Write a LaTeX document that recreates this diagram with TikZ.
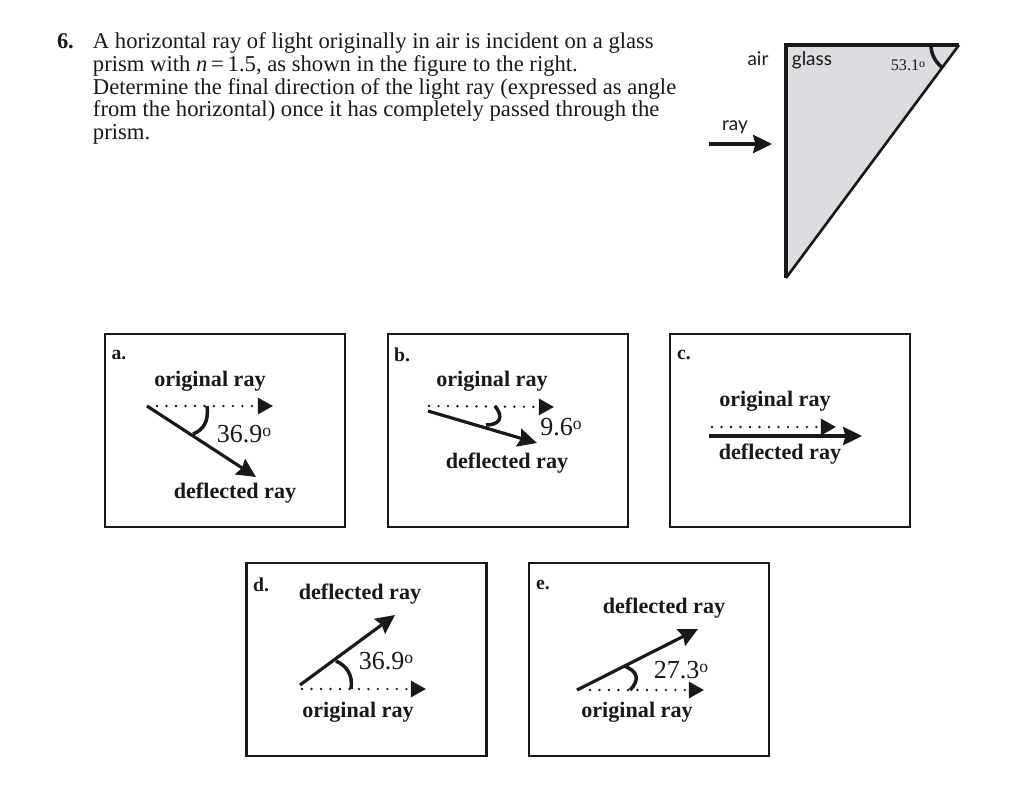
\documentclass[tikz,border=0pt]{standalone}
\usepackage{fontspec}
\setmainfont{Liberation Serif}
\newfontfamily\raysans{Lato}
\usetikzlibrary{arrows.meta, positioning}
\definecolor{prismgray}{RGB}{220,221,224}
\definecolor{inkblack}{RGB}{25,25,25}
\newcommand{\dego}{\raisebox{0.5ex}{\fontsize{5}{5}\selectfont o}}

\begin{document}
\begin{tikzpicture}[every node/.style={inner sep=0pt, outer sep=0pt, text=inkblack},
  optbox/.style={draw=inkblack, line width=0.6pt, fill=white, minimum width=2.40cm, minimum height=1.93cm},
  optlabel/.style={font=\fontsize{5.6}{6.5}\selectfont\bfseries},
  raylabel/.style={font=\fontsize{6.3}{7}\selectfont\bfseries},
  anglabel/.style={font=\fontsize{7.4}{8}\selectfont},
  sanslabel/.style={font=\fontsize{5.4}{6}\selectfont\raysans},
  origray/.style={draw=inkblack, line width=0.75pt, line cap=round, dash pattern=on 0pt off 2.7pt,
                  -{Triangle[length=4.3pt, width=4.6pt]}},
  defray/.style={draw=inkblack, line width=0.9pt, -{Stealth[length=5.4pt, width=5.2pt, inset=0.7pt]}},
  angarc/.style={draw=inkblack, line width=1pt}]
  \useasboundingbox (0,0) rectangle (10.24,8.04);

  % Question text
  \node[anchor=north west, font=\fontsize{6.4}{6.5}\selectfont\bfseries] (qnum) at (0.57,7.70) {6.};
  \node[anchor=north west, align=left, font=\fontsize{6.44}{6.5}\selectfont] (qtext) at (0.93,7.715)
    {A horizontal ray of light originally in air is incident on a glass\\
     prism with \textit{n}\,=\,1.5, as shown in the figure to the right.\\
     Determine the final direction of the light ray (expressed as angle\\
     from the horizontal) once it has completely passed through the\\
     prism.};

  % Prism
  \coordinate (pa) at (7.86,7.59);
  \coordinate (pb) at (9.59,7.59);
  \coordinate (pc) at (7.86,5.26);
  \fill[prismgray] (pa) -- (pb) -- (pc) -- cycle;
  \draw[inkblack, line width=0.9pt, line join=miter] (pc) -- (pa) -- (pb);
  \draw[inkblack, line width=0.75pt] (pb) -- (pc);
  \draw[angarc] (pb) ++(-0.28,0) arc (180:233.1:0.28);
  \node[sanslabel] (air) at (7.58,7.45) {air};
  \node[sanslabel] (glass) at (8.12,7.44) {glass};
  \node[font=\fontsize{4.6}{5}\selectfont] (prang) at (9.08,7.39) {53.1\raisebox{0.4ex}{\fontsize{3.4}{3}\selectfont o}};
  \node[sanslabel] (raytxt) at (7.35,6.77) {ray};
  \coordinate (rayin) at (7.09,6.60);
  \coordinate (rayout) at (7.72,6.60);
  \draw[defray] (rayin) -- (rayout);

  % Option a
  \node[optbox] (boxa) at (2.25,3.735) {};
  \node[optlabel] (laba) at (1.19,4.49) {a.};
  \node[raylabel] (oria) at (2.10,4.23) {original ray};
  \node[raylabel] (defa) at (2.35,3.11) {deflected ray};
  \node[anglabel] (anga) at (2.44,3.70) {36.9\dego};
  \coordinate (a1) at (1.57,3.98);
  \coordinate (a2) at (2.73,3.98);
  \coordinate (a3) at (1.47,3.98);
  \coordinate (a4) at (2.56,3.27);
  \draw[origray] (a1) -- (a2);
  \draw[defray] (a3) -- (a4);
  \draw[angarc] (2.07,3.98) .. controls (2.09,3.82) and (2.03,3.74) .. (1.93,3.70);

  % Option b
  \node[optbox] (boxb) at (5.08,3.735) {};
  \node[optlabel] (labb) at (4.02,4.49) {b.};
  \node[raylabel] (orib) at (4.92,4.23) {original ray};
  \node[raylabel] (defb) at (5.07,3.41) {deflected ray};
  \node[anglabel] (angb) at (5.61,3.77) {9.6\dego};
  \coordinate (b1) at (4.29,3.98);
  \coordinate (b2) at (5.54,3.97);
  \coordinate (b3) at (4.28,3.93);
  \coordinate (b4) at (5.37,3.61);
  \draw[origray] (b1) -- (b2);
  \draw[defray] (b3) -- (b4);
  \draw[angarc] (4.95,3.98) .. controls (5.04,3.87) and (5.00,3.79) .. (4.86,3.79);

  % Option c
  \node[optbox] (boxc) at (7.90,3.735) {};
  \node[optlabel] (labc) at (6.84,4.49) {c.};
  \node[raylabel] (oric) at (7.75,4.03) {original ray};
  \node[raylabel] (defc) at (7.80,3.50) {deflected ray};
  \coordinate (c1) at (7.12,3.77);
  \coordinate (c2) at (8.36,3.77);
  \coordinate (c3) at (7.09,3.68);
  \coordinate (c4) at (8.62,3.68);
  \draw[origray] (c1) -- (c2);
  \draw[defray] (c3) -- (c4);

  % Option d
  \node[optbox] (boxd) at (3.665,1.445) {};
  \node[optlabel] (labd) at (2.61,2.19) {d.};
  \node[raylabel] (defd) at (3.60,2.10) {deflected ray};
  \node[raylabel] (orid) at (3.58,0.92) {original ray};
  \node[anglabel] (angd) at (3.86,1.43) {36.9\dego};
  \coordinate (d1) at (3.02,1.15);
  \coordinate (d2) at (4.26,1.15);
  \coordinate (d3) at (3.00,1.19);
  \coordinate (d4) at (3.95,1.89);
  \draw[origray] (d1) -- (d2);
  \draw[defray] (d3) -- (d4);
  \draw[angarc] (3.51,1.15) .. controls (3.53,1.29) and (3.47,1.38) .. (3.36,1.43);

  % Option e
  \node[optbox] (boxe) at (6.49,1.445) {};
  \node[optlabel] (labe) at (5.43,2.19) {e.};
  \node[raylabel] (defe) at (6.64,1.96) {deflected ray};
  \node[raylabel] (orie) at (6.37,0.92) {original ray};
  \node[anglabel] (ange) at (6.81,1.34) {27.3\dego};
  \coordinate (e1) at (5.90,1.14);
  \coordinate (e2) at (7.04,1.14);
  \coordinate (e3) at (5.77,1.14);
  \coordinate (e4) at (6.98,1.75);
  \draw[origray] (e1) -- (e2);
  \draw[defray] (e3) -- (e4);
  \draw[angarc] (6.30,1.14) .. controls (6.40,1.24) and (6.38,1.33) .. (6.24,1.38);
\end{tikzpicture}
\end{document}
